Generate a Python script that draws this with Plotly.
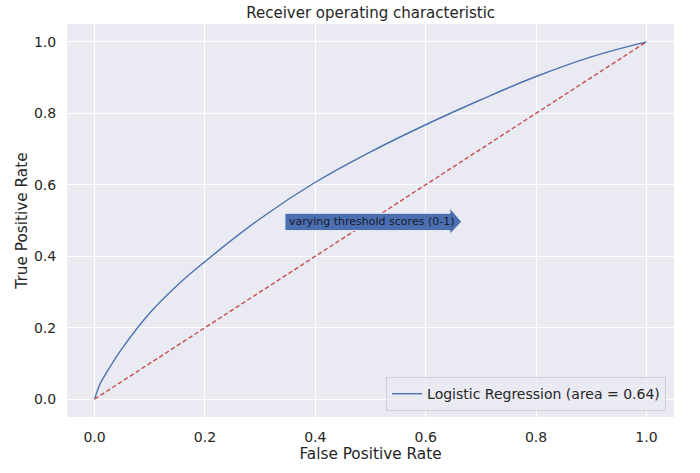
import plotly.graph_objects as go

fpr = [0.0, 0.01, 0.02, 0.05, 0.1, 0.15, 0.2, 0.3, 0.4, 0.5, 0.6, 0.7, 0.8, 0.9, 1.0]
tpr = [0.0, 0.043, 0.07, 0.142, 0.241, 0.319, 0.385, 0.505, 0.607, 0.692, 0.768, 0.838, 0.903, 0.958, 1.0]
diag = [0.0, 1.0]
ticks = [0.0, 0.2, 0.4, 0.6, 0.8, 1.0]
tick_labels = ["0.0", "0.2", "0.4", "0.6", "0.8", "1.0"]
auc = 0.64

font = "DejaVu Sans"
fig = go.Figure()
fig.add_trace(go.Scatter(x=fpr, y=tpr, mode="lines", line=dict(color="#4c72b0", width=1.4, smoothing=1.2),
                         line_shape="spline",
                         name=f"Logistic Regression (area = {auc:.2f})"))
fig.add_trace(go.Scatter(x=diag, y=diag, mode="lines", line=dict(color="#c44e52", width=1.4, dash="4.5px,2.5px"),
                         showlegend=False))

# arrow-shaped text box (data coords)
ax0, ax1, atip = 0.345, 0.644, 0.665
yb, yt, yc = 0.472, 0.52, 0.4965
hb, ht = 0.462, 0.534
path = (f"M {ax0},{yb} L {ax1},{yb} L {ax1},{hb} L {atip},{yc} L {ax1},{ht} L {ax1},{yt} L {ax0},{yt} Z")
fig.add_shape(type="path", path=path, xref="x", yref="y", fillcolor="#4a6fb0",
              line=dict(color="#dfe4ef", width=1), layer="above")
fig.add_annotation(x=ax0 + 0.003, y=yc, xref="x", yref="y", text="varying threshold scores (0-1)",
                   showarrow=False, xanchor="left", yanchor="middle",
                   font=dict(family=font, size=11, color="#1a1a2e"))

axis_common = dict(range=[-0.05, 1.05], tickvals=ticks, ticktext=tick_labels, showgrid=True,
                   gridcolor="white", gridwidth=1.2, zeroline=False, showline=False,
                   ticks="outside", ticklen=7, tickcolor="rgba(0,0,0,0)",
                   tickfont=dict(family=font, size=14, color="#262626"))
fig.update_xaxes(**axis_common, title=dict(text="False Positive Rate", font=dict(family=font, size=15.3, color="#262626"), standoff=3))
fig.update_yaxes(**axis_common, title=dict(text="True Positive Rate", font=dict(family=font, size=15.3, color="#262626"), standoff=2))

fig.update_layout(
    width=700, height=473,
    margin=dict(l=67, r=26, t=24, b=56),
    plot_bgcolor="#eaeaf2", paper_bgcolor="white",
    title=dict(text="Receiver operating characteristic", x=0.5295, xanchor="center", y=0.972, yanchor="middle",
               font=dict(family=font, size=15, color="#262626")),
    legend=dict(x=0.987, y=0.015, xanchor="right", yanchor="bottom", bgcolor="rgba(234,234,242,0.8)",
                bordercolor="#cfcfd6", borderwidth=1, font=dict(family=font, size=14, color="#262626")),
    font=dict(family=font),
)
fig.write_html("out.html")
